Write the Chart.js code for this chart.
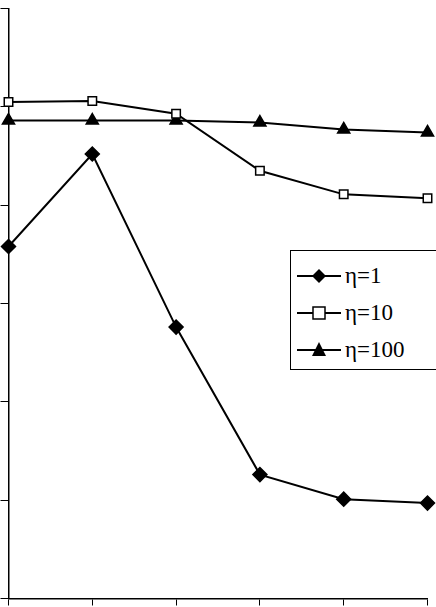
<!DOCTYPE html>
<html><head><meta charset="utf-8">
<script src="https://cdn.jsdelivr.net/npm/chart.js@4/dist/chart.umd.min.js"></script>
<style>
body{margin:0;background:#fff;}
#wrap{position:relative;width:436px;height:607px;}
#legend{position:absolute;left:290px;top:250px;width:150px;height:120px;border:1px solid #000;background:#fff;
 font-family:"Liberation Serif",serif;font-size:23px;box-sizing:border-box;padding-top:6px;}
.row{display:flex;align-items:center;height:37px;}
.row svg{margin-left:6px;margin-right:4px;}
</style></head>
<body>
<div id="wrap"><canvas id="c" width="436" height="607"></canvas>
<div id="legend"></div></div>
<script>
// x positions (index) and values
var xs = [0, 1, 2, 3, 4, 5];
var eta1 = [3.58, 4.52, 2.76, 1.26, 1.01, 0.97];
var eta10 = [5.05, 5.06, 4.93, 4.35, 4.11, 4.07];
var eta100 = [4.86, 4.86, 4.86, 4.84, 4.77, 4.74];
var seriesNames = ["η=1", "η=10", "η=100"];
var styles = ["rectRot", "rect", "triangle"];

function pts(arr) { return arr.map(function (v, i) { return {x: xs[i], y: v}; }); }

function ds(label, data, style, fill, r) {
    return {label: label, data: pts(data), borderColor: "#000", borderWidth: 2,
        pointStyle: style, pointRadius: r, pointBackgroundColor: fill,
        pointBorderColor: "#000", pointBorderWidth: 1.5, clip: false, tension: 0};
}

new Chart(document.getElementById("c"), {
    type: "line",
    data: {datasets: [
        ds(seriesNames[0], eta1, styles[0], "#000", 7),
        ds(seriesNames[1], eta10, styles[1], "#fff", 6),
        ds(seriesNames[2], eta100, styles[2], "#000", 7)
    ]},
    options: {
        responsive: false, animation: false,
        layout: {padding: {top: 0, right: 6, left: 0, bottom: 0}},
        plugins: {legend: {display: false}, tooltip: {enabled: false}},
        scales: {
            x: {type: "linear", min: 0, max: 5,
                ticks: {stepSize: 1, display: false},
                grid: {drawOnChartArea: false, tickLength: 7, color: "#000"},
                border: {color: "#000", width: 1.5},
                afterFit: function (s) { s.height = 7; s.paddingLeft = 0; s.paddingRight = 0; }},
            y: {min: 0, max: 6,
                ticks: {stepSize: 1, display: false},
                grid: {drawOnChartArea: false, tickLength: 8, color: "#000"},
                border: {color: "#000", width: 1.5},
                afterFit: function (s) { s.width = 8; s.paddingTop = 0; s.paddingBottom = 0; }}
        }
    }
});

var marks = [
  '<polygon points="22,4 29,11 22,18 15,11" fill="#000"/>',
  '<rect x="16" y="5" width="12" height="12" fill="#fff" stroke="#000" stroke-width="1.5"/>',
  '<polygon points="22,3 29,17 15,17" fill="#000"/>'
];
var lg = document.getElementById("legend");
seriesNames.forEach(function (n, i) {
    lg.innerHTML += '<div class="row"><svg width="44" height="22"><line x1="0" y1="11" x2="44" y2="11" stroke="#000" stroke-width="2"/>' + marks[i] + '</svg>' + n + '</div>';
});
</script>
</body></html>
